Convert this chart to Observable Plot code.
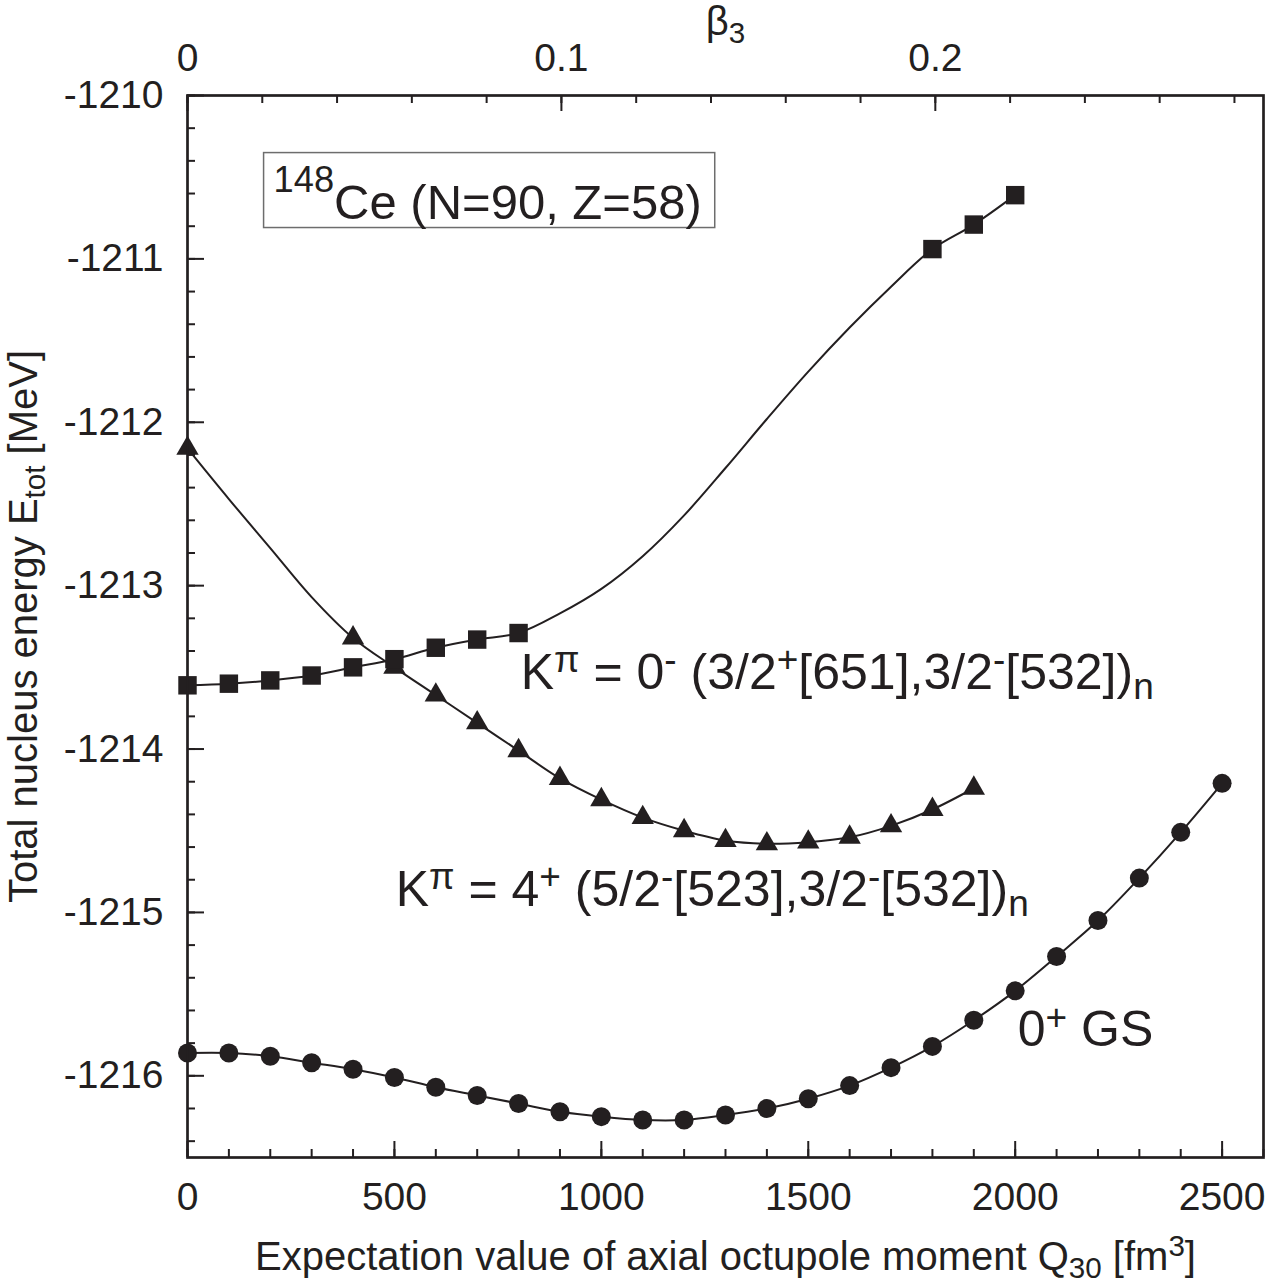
<!DOCTYPE html>
<html>
<head>
<meta charset="utf-8">
<script src="https://cdn.jsdelivr.net/npm/d3@7"></script>
<script src="https://cdn.jsdelivr.net/npm/@observablehq/plot@0.6"></script>
<style>
  html, body { margin: 0; padding: 0; background: #fff; }
  svg { display: block; }
</style>
</head>
<body>
<div id="chart"></div>
<script>
// 0+ ground state: axial octupole moment Q30 [fm^3] and total energy [MeV]
const gsQ = [0, 100, 200, 300, 400, 500, 600, 700, 800, 900, 1000, 1100, 1200,
             1300, 1400, 1500, 1600, 1700, 1800, 1900, 2000, 2100, 2200, 2300, 2400, 2500];
const gsE = [-1215.86, -1215.86, -1215.88, -1215.92, -1215.96, -1216.01, -1216.07,
             -1216.12, -1216.17, -1216.22, -1216.25, -1216.27, -1216.27, -1216.24,
             -1216.20, -1216.14, -1216.06, -1215.95, -1215.82, -1215.66, -1215.48,
             -1215.27, -1215.05, -1214.79, -1214.51, -1214.21];

// K^pi = 4+ configuration: computed points (triangles)
const k4Q = [0, 400, 500, 600, 700, 800, 900, 1000, 1100, 1200, 1300, 1400, 1500,
             1600, 1700, 1800, 1900];
const k4E = [-1212.16, -1213.32, -1213.50, -1213.67, -1213.84, -1214.01, -1214.18,
             -1214.31, -1214.42, -1214.50, -1214.56, -1214.58, -1214.57, -1214.54,
             -1214.47, -1214.37, -1214.24];
// K^pi = 4+ curve between the first markers
const k4CurveQ = [100, 200, 300];
const k4CurveE = [-1212.47, -1212.77, -1213.07];

// K^pi = 0- configuration: computed points (squares)
const k0Q = [0, 100, 200, 300, 400, 500, 600, 700, 800, 1800, 1900, 2000];
const k0E = [-1213.61, -1213.60, -1213.58, -1213.55, -1213.50, -1213.45, -1213.38,
             -1213.33, -1213.29, -1210.94, -1210.79, -1210.61];
// K^pi = 0- curve through the unmarked stretch
const k0CurveQ = [900, 1000, 1100, 1200, 1300, 1400, 1500, 1600, 1700];
const k0CurveE = [-1213.17, -1213.02, -1212.82, -1212.57, -1212.28, -1211.98,
                  -1211.69, -1211.42, -1211.17];

// axis ticks
const qMajor = [0, 500, 1000, 1500, 2000, 2500];
const qMinor = d3.range(0, 2601, 100);
const eMajor = [-1216, -1215, -1214, -1213, -1212, -1211, -1210];
const eMinor = d3.range(0, 33).map(i => -1216.4 + i * 0.2);
// top axis: octupole deformation beta_3, linear in Q30
const qPerBeta3 = 9035;
const beta3Major = [0, 0.1, 0.2];
const beta3Minor = d3.range(0, 15).map(i => i * 0.02);

// text labels for the three configurations
const stateLabels = [
  {text: "K^{π} = 0^{-} (3/2^{+}[651],3/2^{-}[532])_{n}", q: 805, e: -1213.63},
  {text: "K^{π} = 4^{+} (5/2^{-}[523],3/2^{-}[532])_{n}", q: 503, e: -1214.96},
  {text: "0^{+} GS", q: 2006, e: -1215.82}
];
const nucleusLabel = {text: "^{148}Ce (N=90, Z=58)", q: 208, e: -1210.753};

const ink = "#231f20";
const W = 1270, H = 1282;
const mL = 187, mR = 7, mT = 95, mB = 125;
const FW = W - mL - mR, FH = H - mT - mB;

const zip = (qs, es) => qs.map((q, i) => ({q, e: es[i]}));
const gs = zip(gsQ, gsE);
const k4 = zip(k4Q, k4E);
const k0 = zip(k0Q, k0E);
const k4Line = [...k4, ...zip(k4CurveQ, k4CurveE)].sort((a, b) => a.q - b.q);
const k0Line = [...k0, ...zip(k0CurveQ, k0CurveE)].sort((a, b) => a.q - b.q);

const chart = Plot.plot({
  width: W,
  height: H,
  marginLeft: mL,
  marginRight: mR,
  marginTop: mT,
  marginBottom: mB,
  style: {fontFamily: "'Liberation Sans', Arial, Helvetica, sans-serif", color: ink, background: "#fff"},
  x: {domain: [0, 2600]},
  y: {domain: [-1216.5, -1210]},
  marks: [
    // inward tick marks
    Plot.tickX(qMinor, {insetTop: FH - 8, stroke: ink, strokeWidth: 2}),
    Plot.tickX(qMajor, {insetTop: FH - 16, stroke: ink, strokeWidth: 2}),
    Plot.tickX(beta3Minor.map(b => b * qPerBeta3), {insetBottom: FH - 8, stroke: ink, strokeWidth: 2}),
    Plot.tickX(beta3Major.map(b => b * qPerBeta3), {insetBottom: FH - 16, stroke: ink, strokeWidth: 2}),
    Plot.tickY(eMinor, {insetRight: FW - 8, stroke: ink, strokeWidth: 2}),
    Plot.tickY(eMajor, {insetRight: FW - 17, stroke: ink, strokeWidth: 2}),
    // tick labels
    Plot.axisX({anchor: "bottom", ticks: qMajor, tickSize: 0, tickPadding: 25, fontSize: 39,
                tickFormat: d => String(d), label: null}),
    Plot.axisX({anchor: "top", ticks: beta3Major.map(b => b * qPerBeta3), tickSize: 0, tickPadding: 25,
                fontSize: 39, tickFormat: q => String(Math.round(q / qPerBeta3 * 100) / 100), label: null}),
    Plot.axisY({anchor: "left", ticks: eMajor, tickSize: 0, tickPadding: 24, fontSize: 39,
                tickFormat: d => String(d), label: null}),
    // axis titles
    Plot.text(["Expectation value of axial octupole moment Q_{30} [fm^{3}]"],
              {frameAnchor: "bottom", dy: 112, lineAnchor: "bottom", textAnchor: "middle",
               fontSize: 40, fill: ink}),
    Plot.text(["β_{3}"], {frameAnchor: "top", dy: -61, lineAnchor: "bottom", textAnchor: "middle",
                          fontSize: 40, fill: ink}),
    Plot.text(["Total nucleus energy E_{tot} [MeV]"],
              {frameAnchor: "left", dx: -151, rotate: -90, lineAnchor: "bottom", textAnchor: "middle",
               fontSize: 40, fill: ink}),
    // curves
    Plot.line(gs, {x: "q", y: "e", curve: "catmull-rom", stroke: ink, strokeWidth: 2}),
    Plot.line(k4Line, {x: "q", y: "e", curve: "catmull-rom", stroke: ink, strokeWidth: 2}),
    Plot.line(k0Line, {x: "q", y: "e", curve: "catmull-rom", stroke: ink, strokeWidth: 2}),
    // computed points
    Plot.dot(gs, {x: "q", y: "e", symbol: "circle", r: 9.5, fill: ink, stroke: "none"}),
    Plot.dot(k4, {x: "q", y: "e", symbol: "triangle", r: 8.3, fill: ink, stroke: "none"}),
    Plot.dot(k0, {x: "q", y: "e", symbol: "square", r: 10.4, fill: ink, stroke: "none"}),
    // labels
    Plot.text(stateLabels, {x: "q", y: "e", text: "text", textAnchor: "start", lineAnchor: "bottom",
                            fontSize: 50, fill: ink}),
    Plot.text([nucleusLabel], {x: "q", y: "e", text: "text", textAnchor: "start", lineAnchor: "bottom",
                               fontSize: 49, fill: ink}),
    Plot.frame({stroke: ink, strokeWidth: 2.7})
  ]
});

document.getElementById("chart").appendChild(chart);

// Turn ^{...} and _{...} markup into raised / lowered tspans.
const svgNS = "http://www.w3.org/2000/svg";
function richify(el) {
  const src = el.textContent;
  if (!/[\^_]\{/.test(src)) return;
  const fs = parseFloat(getComputedStyle(el).fontSize);
  // a leading superscript (mass number) sits higher than inline ones
  const supShift = src.startsWith("^") ? 0.55 : 0.33;
  const parts = [];
  const re = /([\^_])\{([^}]*)\}/g;
  let last = 0, m;
  while ((m = re.exec(src))) {
    if (m.index > last) parts.push({t: src.slice(last, m.index), k: ""});
    parts.push({t: m[2], k: m[1]});
    last = re.lastIndex;
  }
  if (last < src.length) parts.push({t: src.slice(last), k: ""});
  let base = 0;
  const dyAttr = el.getAttribute("dy");
  if (dyAttr) {
    base = dyAttr.endsWith("em") ? parseFloat(dyAttr) * fs : parseFloat(dyAttr);
    el.removeAttribute("dy");
  }
  el.textContent = "";
  let shift = -base;
  for (const p of parts) {
    const target = p.k === "^" ? -supShift * fs : p.k === "_" ? 0.2 * fs : 0;
    const ts = document.createElementNS(svgNS, "tspan");
    if (target - shift !== 0) ts.setAttribute("dy", target - shift);
    if (p.k) ts.setAttribute("font-size", 0.74 * fs);
    ts.textContent = p.t;
    el.appendChild(ts);
    shift = target;
  }
}
chart.querySelectorAll("text").forEach(richify);

// Outline box around the nucleus label
chart.querySelectorAll("text").forEach(el => {
  if (!el.textContent.startsWith("148Ce")) return;
  const b = el.getBBox();
  const r = document.createElementNS(svgNS, "rect");
  r.setAttribute("x", b.x - 10);
  r.setAttribute("y", b.y - 6);
  r.setAttribute("width", b.width + 23);
  r.setAttribute("height", b.height + 5);
  r.setAttribute("fill", "none");
  r.setAttribute("stroke", "#6d6d6d");
  r.setAttribute("stroke-width", 1.5);
  const t = el.getAttribute("transform");
  if (t) r.setAttribute("transform", t);
  el.parentNode.insertBefore(r, el);
});
</script>
</body>
</html>
